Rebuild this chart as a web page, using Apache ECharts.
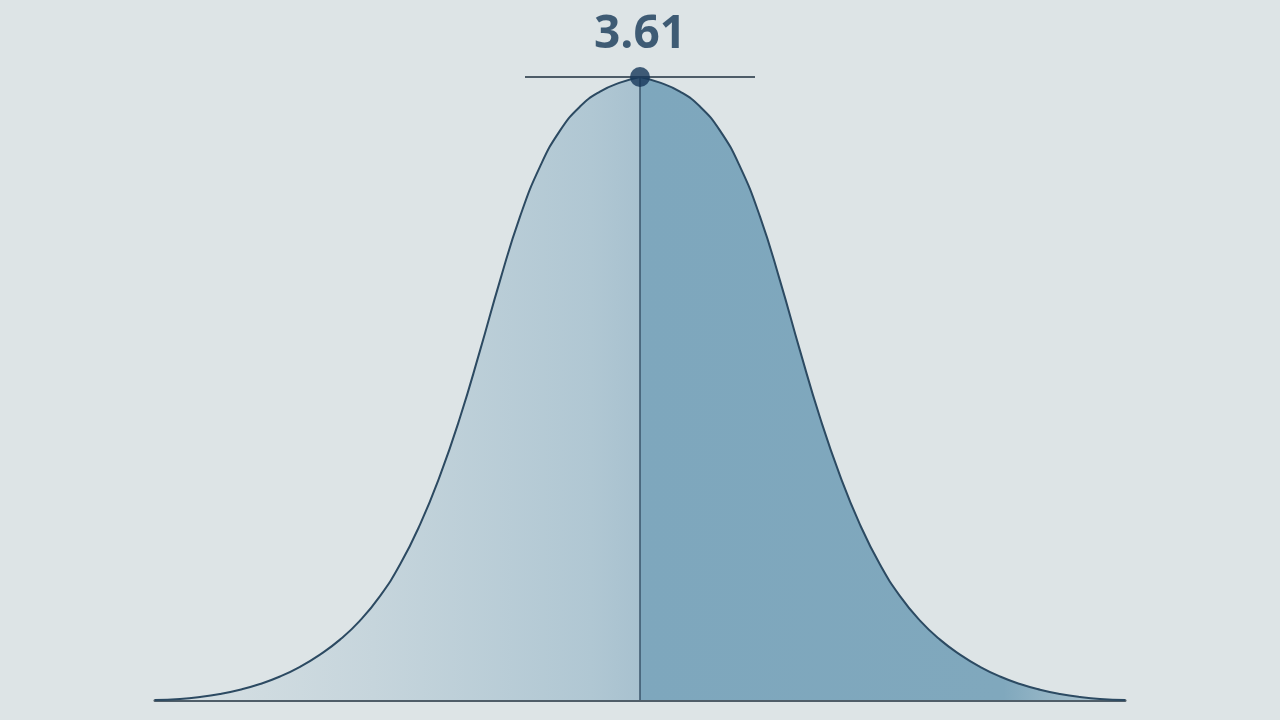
<!DOCTYPE html>
<html>
<head>
<meta charset="utf-8">
<script src="https://cdn.jsdelivr.net/npm/echarts@6/dist/echarts.min.js"></script>
<style>html,body{margin:0;padding:0;background:#dde4e6;}#c{width:1280px;height:720px;}</style>
</head>
<body>
<div id="c"></div>
<script>
// Curve: [x value, density]
var leftCurve = [
  [1.185,0.0000],[1.31,0.0013],[1.41,0.0038],[1.51,0.0077],[1.61,0.0132],[1.71,0.0205],
  [1.81,0.0301],[1.91,0.0426],[2.01,0.0582],[2.11,0.0774],[2.21,0.1018],[2.31,0.1332],
  [2.41,0.1736],[2.51,0.2249],[2.61,0.2877],[2.71,0.3621],[2.81,0.4479],[2.91,0.5377],
  [3.01,0.6197],[3.11,0.6838],[3.21,0.7300],[3.31,0.7608],[3.41,0.7800],[3.51,0.7915],
  [3.61,0.7987]
];
var rightCurve = [
  [3.61,0.7987],[3.71,0.7915],[3.81,0.7800],[3.91,0.7608],[4.01,0.7300],[4.11,0.6838],
  [4.21,0.6197],[4.31,0.5377],[4.41,0.4479],[4.51,0.3621],[4.61,0.2877],[4.71,0.2249],
  [4.81,0.1736],[4.91,0.1332],[5.01,0.1018],[5.11,0.0774],[5.21,0.0582],[5.31,0.0426],
  [5.41,0.0301],[5.51,0.0205],[5.61,0.0132],[5.71,0.0077],[5.81,0.0038],[5.91,0.0013],
  [6.035,0.0000]
];
var peakValue = 3.61;
var peakDensity = 0.7987;
var peakLabel = '3.61';
var peakBarHalfWidth = 0.575;

var chart = echarts.init(document.getElementById('c'));
chart.setOption({
  backgroundColor: '#dde4e6',
  animation: false,
  grid: {left: 155, right: 155, top: 76, bottom: 20},
  xAxis: {
    type: 'value', min: 1.185, max: 6.035,
    axisLine: {show: true, onZero: false, lineStyle: {color: '#4f5d68', width: 3}},
    axisTick: {show: false}, axisLabel: {show: false}, splitLine: {show: false}
  },
  yAxis: {type: 'value', min: 0, max: 0.8, show: false, splitLine: {show: false}},
  series: [
    {
      type: 'line', data: leftCurve, smooth: 0.5, symbol: 'none', z: 2,
      lineStyle: {color: '#2c4a62', width: 2},
      areaStyle: {
        origin: 'start',
        color: new echarts.graphic.LinearGradient(0, 0, 1, 0, [
          {offset: 0, color: '#d8e1e4'},
          {offset: 0.45, color: '#c6d5dc'},
          {offset: 0.9, color: '#b0c7d3'},
          {offset: 1, color: '#a8c1cf'}
        ]),
        opacity: 1
      }
    },
    {
      type: 'line', data: rightCurve, smooth: 0.5, symbol: 'none', z: 2,
      lineStyle: {color: '#2c4a62', width: 2},
      areaStyle: {
        origin: 'start',
        color: new echarts.graphic.LinearGradient(0, 0, 1, 0, [
          {offset: 0, color: '#7ea7bd'},
          {offset: 0.75, color: '#80a8bd'},
          {offset: 1, color: '#b8ccd5'}
        ]),
        opacity: 1
      }
    },
    {
      type: 'scatter', z: 5,
      data: [[peakValue, peakDensity]],
      symbolSize: 20,
      itemStyle: {color: '#17375a'},
      label: {
        show: true, position: 'top', distance: 9,
        formatter: peakLabel,
        fontSize: 46, fontWeight: 'bold', fontFamily: 'Open Sans',
        color: '#173858'
      },
      markLine: {
        silent: true, symbol: 'none', z: 3,
        label: {show: false},
        data: [
          [{coord: [peakValue - peakBarHalfWidth, peakDensity], lineStyle: {color: '#4d5c68', width: 2, type: 'solid'}},
           {coord: [peakValue + peakBarHalfWidth, peakDensity]}],
          [{coord: [peakValue, 0], lineStyle: {color: '#3a536a', width: 1.5, type: 'solid'}},
           {coord: [peakValue, peakDensity]}]
        ]
      }
    }
  ]
});
</script>
</body>
</html>
